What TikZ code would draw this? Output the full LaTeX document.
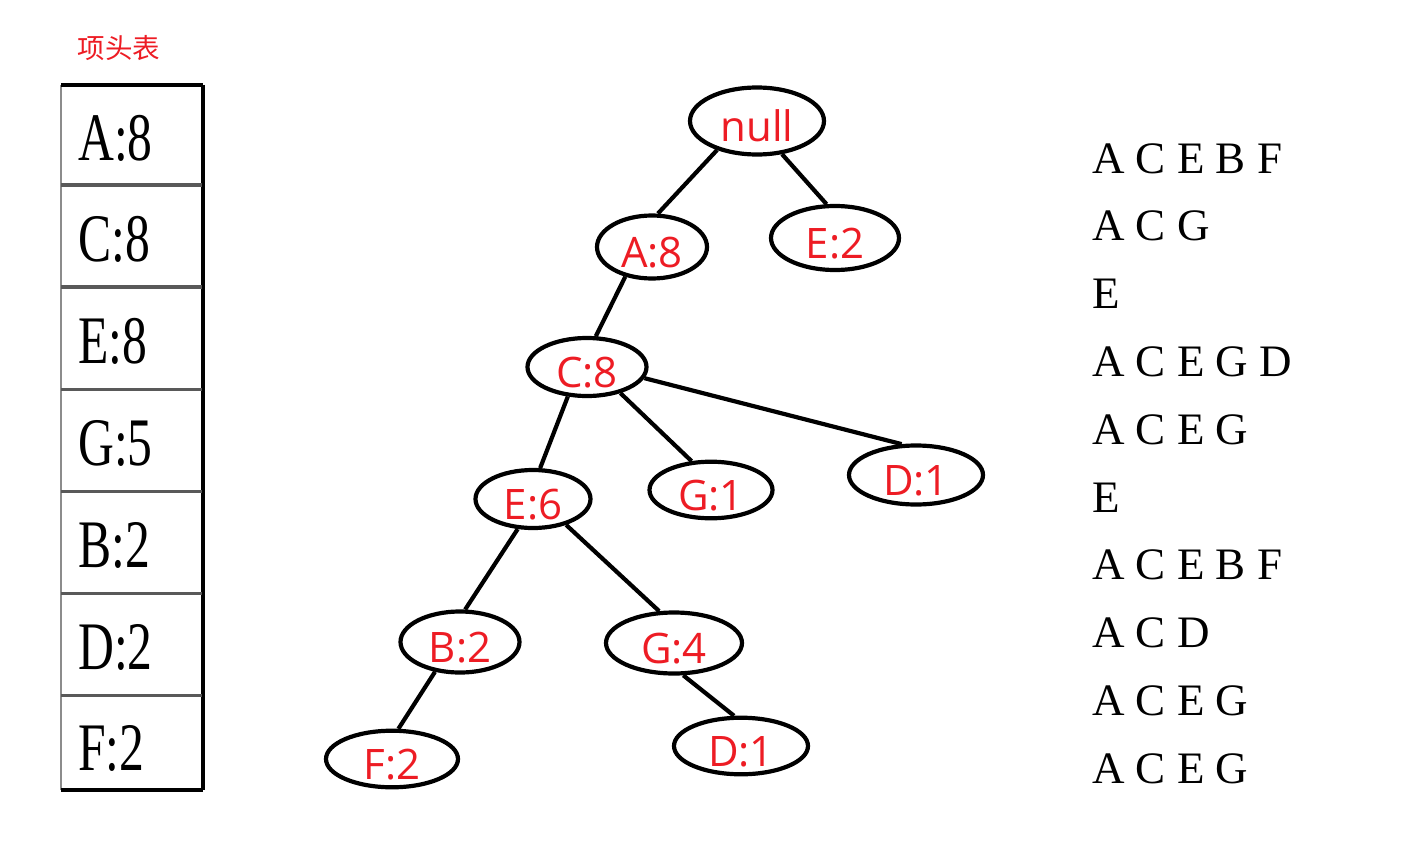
\documentclass[tikz,border=0pt]{standalone}
\usepackage{fontspec}
\usetikzlibrary{shapes.geometric}
\setmainfont{Liberation Serif}
\newfontfamily\treefont{Open Sans}
\newfontfamily\cjkfont{Noto Sans CJK SC}
\definecolor{myred}{RGB}{237,28,36}
\tikzset{
  tnode/.style={ellipse, draw, line width=4.2pt, inner sep=0pt, text=myred,
    font=\treefont\fontsize{42}{50}\selectfont, text height=40pt, text depth=0pt},
  edge/.style={line width=4.2pt},
  tabtext/.style={anchor=base west, inner sep=0pt, font=\fontsize{68}{80}\selectfont},
  seqtext/.style={anchor=base west, inner sep=0pt, font=\fontsize{45}{54}\selectfont},
  divline/.style={line width=3.5pt, black!65},
  frameline/.style={line width=3.2pt, black}
}
\begin{document}
\begin{tikzpicture}[x=1pt,y=-1pt]
\useasboundingbox (0,0) rectangle (1411,867);
% header
\node[text=myred, font=\cjkfont\fontsize{27.5}{32}\selectfont, inner sep=0pt] (hdr) at (119,48) {项头表};
% table frame
\coordinate (tl) at (61,85);
\coordinate (tr) at (203,85);
\coordinate (bl) at (61,790);
\coordinate (br) at (203,790);
\draw[line width=2pt, black!45] (tl) -- (bl);
\draw[frameline] (tl) -- (tr);
\draw[frameline] (tr) -- (br);
\draw[frameline] (bl) -- (br);
\foreach \yy in {185,287,389.5,491.7,593.5,695.5}{
  \draw[divline] (61,\yy) -- (202,\yy);
}
% table texts
\node[tabtext] (tA) at (78,160) {\scalebox{0.73}[1]{A:8}};
\node[tabtext] (tC) at (78,261.8) {\scalebox{0.73}[1]{C:8}};
\node[tabtext] (tE) at (78,363.6) {\scalebox{0.73}[1]{E:8}};
\node[tabtext] (tG) at (78,465.4) {\scalebox{0.73}[1]{G:5}};
\node[tabtext] (tB) at (78,567.2) {\scalebox{0.73}[1]{B:2}};
\node[tabtext] (tD) at (78,669) {\scalebox{0.73}[1]{D:2}};
\node[tabtext] (tF) at (78,770.8) {\scalebox{0.73}[1]{F:2}};
% tree nodes
\node[tnode, minimum width=134pt, minimum height=67pt] (null) at (757,121) {null};
\node[tnode, minimum width=128pt, minimum height=64pt] (E2) at (835,238) {E:2};
\node[tnode, minimum width=110pt, minimum height=63pt] (A8) at (652,247) {A:8};
\node[tnode, minimum width=119pt, minimum height=58pt] (C8) at (587,367) {C:8};
\node[tnode, minimum width=115pt, minimum height=58pt] (E6) at (533,499) {E:6};
\node[tnode, minimum width=123pt, minimum height=56pt] (G1) at (711,490) {G:1};
\node[tnode, minimum width=134pt, minimum height=59pt] (D1) at (916,475) {D:1};
\node[tnode, minimum width=119pt, minimum height=61pt] (B2) at (460,642) {B:2};
\node[tnode, minimum width=136pt, minimum height=61pt] (G4) at (674,643) {G:4};
\node[tnode, minimum width=132pt, minimum height=56pt] (F2) at (392,759) {F:2};
\node[tnode, minimum width=134pt, minimum height=56pt] (D1b) at (741,746) {D:1};
% edges
\draw[edge] (null.216) -- (A8.80);
\draw[edge] (null.307) -- (E2.104);
\draw[edge] (A8.228) -- (C8.74);
\draw[edge] (C8.237) -- (E6.77);
\draw[edge] (C8.322) -- (G1.124);
\draw[edge] (C8.349) -- (D1.115);
\draw[edge] (E6.243) -- (B2.81);
\draw[edge] (E6.322) -- (G4.115);
\draw[edge] (B2.230) -- (F2.78);
\draw[edge] (G4.286) -- (D1b.103);
% sequences
\node[seqtext] (s1) at (1092,173) {A C E B F};
\node[seqtext] (s2) at (1092,240.8) {A C G};
\node[seqtext] (s3) at (1092,308.6) {E};
\node[seqtext] (s4) at (1092,376.4) {A C E G D};
\node[seqtext] (s5) at (1092,444.2) {A C E G};
\node[seqtext] (s6) at (1092,512) {E};
\node[seqtext] (s7) at (1092,579.8) {A C E B F};
\node[seqtext] (s8) at (1092,647.6) {A C D};
\node[seqtext] (s9) at (1092,715.4) {A C E G};
\node[seqtext] (s10) at (1092,783.2) {A C E G};
\end{tikzpicture}
\end{document}
